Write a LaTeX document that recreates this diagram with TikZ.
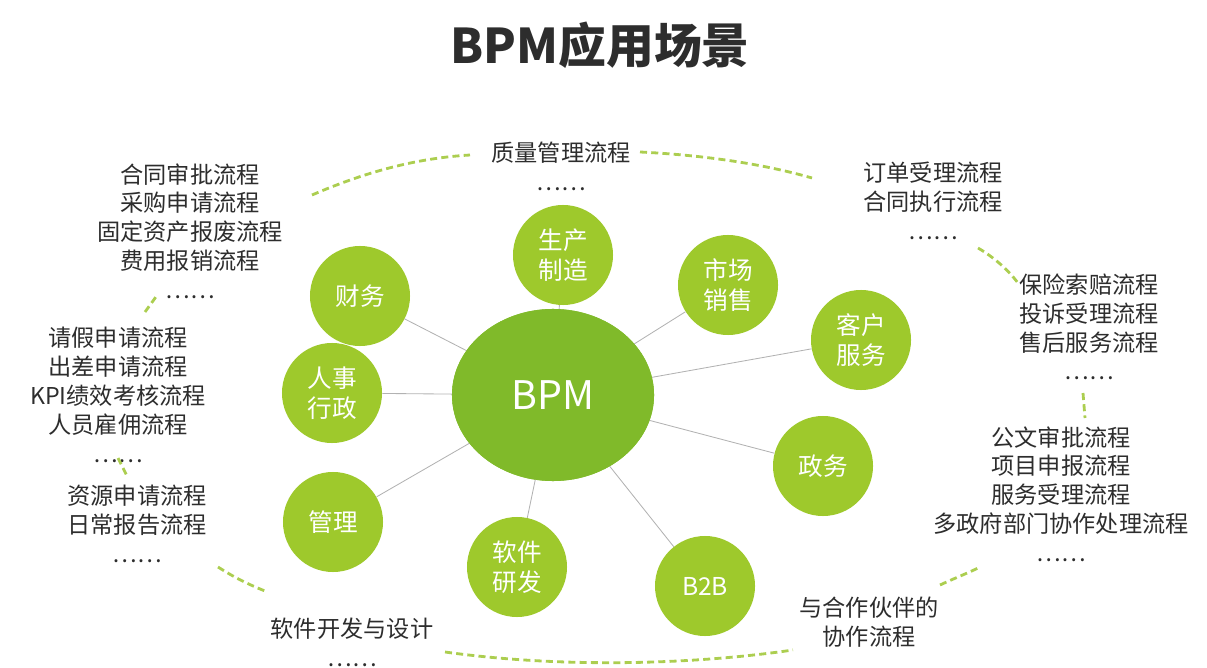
\documentclass[tikz,border=0pt]{standalone}
\usepackage{fontspec}
\usetikzlibrary{shapes.geometric}
\setmainfont{Noto Sans CJK SC}
\definecolor{bigg}{RGB}{128,186,42}
\definecolor{smallg}{RGB}{158,201,44}
\definecolor{dashg}{RGB}{172,206,80}
\definecolor{txt}{RGB}{45,45,45}
\tikzset{
  sc/.style={circle,fill=smallg,minimum size=2.5cm,inner sep=0pt,text=white,font=\fontsize{17.5}{21.5}\selectfont,align=center},
  big/.style={ellipse,fill=bigg,minimum width=5.05cm,minimum height=4.3cm,inner sep=0pt},
  lk/.style={draw=gray!60,line width=0.6pt},
  tx/.style={text=txt,font=\fontsize{16.5}{20.5}\selectfont,align=center,inner sep=0pt},
  dl/.style={draw=dashg,line width=2pt,dash pattern=on 5pt off 3pt}
}
\begin{document}
\begin{tikzpicture}[x=0.025cm,y=-0.025cm]
\useasboundingbox (0,0) rectangle (1207,668);
\node[text=txt,font=\fontsize{34}{38}\selectfont\bfseries] (title) at (600,45) {BPM应用场景};
\node[sc] (cw) at (360,296) {财务};
\node[sc] (sc1) at (563,255) {生产\\制造};
\node[sc] (scx) at (728,285) {市场\\销售};
\node[sc] (kh) at (861,340) {客户\\服务};
\node[sc] (rs) at (332,393) {人事\\行政};
\node[sc] (zw) at (823,466) {政务};
\node[sc] (gl) at (333,522) {管理};
\node[sc] (rj) at (517,567) {软件\\研发};
\node[sc] (b2b) at (705,586) {B2B};
\node[big] (bpm) at (553,395) {};
\foreach \n in {cw,sc1,scx,kh,rs,zw,gl,rj,b2b} \draw[lk] (bpm.center) -- (\n);
\node[big,text=white,font=\fontsize{28}{32}\selectfont] (bpm2) at (553,395) {BPM};
\node[tx] (t1) at (561,166) {质量管理流程\\……};
\node[tx] (t2) at (190,231) {合同审批流程\\采购申请流程\\固定资产报废流程\\费用报销流程\\……};
\node[tx] (t3) at (118,395) {请假申请流程\\出差申请流程\\KPI绩效考核流程\\人员雇佣流程\\……};
\node[tx] (t4) at (137,524) {资源申请流程\\日常报告流程\\……};
\node[tx] (t5) at (352,642) {软件开发与设计\\……};
\node[tx] (t6) at (933,201) {订单受理流程\\合同执行流程\\……};
\node[tx] (t7) at (1089,327) {保险索赔流程\\投诉受理流程\\售后服务流程\\……};
\node[tx] (t8) at (1061,494) {公文审批流程\\项目申报流程\\服务受理流程\\多政府部门协作处理流程\\……};
\node[tx] (t9) at (869,622) {与合作伙伴的\\协作流程};
\draw[dl] (312,195) .. controls (370,170) and (420,158) .. (470,155);
\draw[dl] (640,152) .. controls (700,155) and (760,163) .. (812,178);
\draw[dl] (145,312) -- (158,294);
\draw[dl] (978,248) .. controls (995,258) and (1008,270) .. (1018,283);
\draw[dl] (1083,393) -- (1085,418);
\draw[dl] (118,458) -- (127,476);
\draw[dl] (218,567) .. controls (235,578) and (250,585) .. (265,591);
\draw[dl] (445,652) .. controls (560,668) and (690,665) .. (793,650);
\draw[dl] (940,585) .. controls (955,578) and (968,573) .. (978,568);
\end{tikzpicture}
\end{document}
